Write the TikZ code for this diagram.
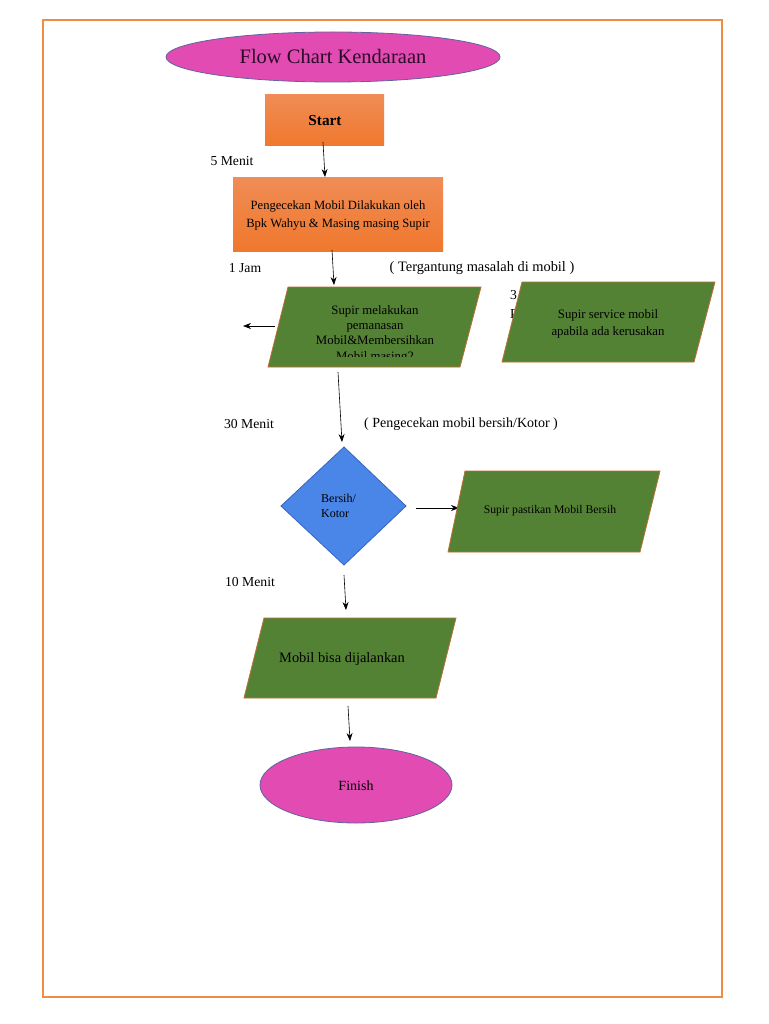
\documentclass[tikz,border=0pt]{standalone}
\usepackage{fontspec}
\setmainfont{Liberation Serif}
\usetikzlibrary{shapes.geometric,arrows.meta}
\definecolor{frameor}{RGB}{240,140,70}
\definecolor{pinkf}{RGB}{226,75,177}
\definecolor{ellb}{RGB}{95,100,160}
\definecolor{greenf}{RGB}{84,130,53}
\definecolor{greenb}{RGB}{190,110,50}
\definecolor{bluef}{RGB}{74,134,232}
\definecolor{blueb}{RGB}{55,100,190}
\definecolor{ortop}{RGB}{240,140,85}
\definecolor{orbot}{RGB}{240,120,45}
\definecolor{titlec}{RGB}{40,10,40}
\tikzset{
  lbl/.style={inner sep=0pt,font=\fontsize{13.7}{15}\selectfont},
  ptxt/.style={inner sep=0pt,align=center,font=\fontsize{11}{15}\selectfont},
  para/.style={fill=greenf,draw=greenb,line width=0.8pt},
  orbox/.style={top color=ortop,bottom color=orbot,draw=none},
  arr/.style={-{Stealth[length=8pt,width=6pt]},line width=0.6pt},
}
\begin{document}
\begin{tikzpicture}[x=1pt,y=-1pt]
\useasboundingbox (0,0) rectangle (768,1024);
\fill[white] (0,0) rectangle (768,1024);
\draw[frameor,line width=1.2pt] (43,20) rectangle (722,997);

% title
\node[ellipse,fill=pinkf,draw=ellb,line width=0.8pt,minimum width=334pt,minimum height=50pt,inner sep=0pt] (title) at (333,57) {};
\node[inner sep=0pt,text=titlec,font=\fontsize{20.5}{22}\selectfont] (titletxt) at (333,56) {Flow Chart Kendaraan};

% start
\node[orbox,minimum width=119pt,minimum height=51pt] (start) at (324.5,120.5) {};
\node[inner sep=0pt,font=\bfseries\fontsize{15.3}{17}\selectfont] (starttxt) at (325,121) {Start};

\node[lbl] (l5) at (232,161) {5 Menit};
\coordinate (a1s) at (323,142);
\coordinate (a1e) at (325,177);
\draw[arr] (a1s) -- (a1e);

% check box
\node[orbox,minimum width=210pt,minimum height=73pt] (check) at (338,214.5) {};
\node[ptxt,font=\fontsize{12.6}{18}\selectfont] (checktxt) at (338,215) {Pengecekan Mobil Dilakukan oleh\\Bpk Wahyu \& Masing masing Supir};

\node[lbl] (l1) at (245,268) {1 Jam};
\node[lbl,font=\fontsize{14.4}{16}\selectfont] (lt) at (482,268) {( Tergantung masalah di mobil )};
\coordinate (a2s) at (332,250);
\coordinate (a2e) at (334,285);
\draw[arr] (a2s) -- (a2e);

% hidden text behind right parallelogram
\node[lbl,anchor=west] (h3) at (510,295) {3};
\node[lbl,anchor=west] (hp) at (510,314) {P};

% parallelogram 1
\draw[para] (288,287) -- (481,287) -- (460,367) -- (268,367) -- cycle;
\begin{scope}
\clip (260,290) rectangle (490,356);
\node[ptxt,font=\fontsize{12.8}{15.3}\selectfont] (p1txt) at (375,334) {Supir melakukan\\pemanasan\\Mobil\&Membersihkan\\Mobil masing2};
\end{scope}
\coordinate (a3s) at (275,326);
\coordinate (a3e) at (243,326);
\draw[arr] (a3s) -- (a3e);

% parallelogram 2
\draw[para] (522,282) -- (715,282) -- (694,362) -- (502,362) -- cycle;
\node[ptxt,font=\fontsize{12.8}{17}\selectfont] (p2txt) at (608,324) {Supir service mobil\\apabila ada kerusakan};

\coordinate (a4s) at (338,372);
\coordinate (a4e) at (342,442);
\draw[arr] (a4s) -- (a4e);
\node[lbl] (l30) at (249,424) {30 Menit};
\node[lbl,font=\fontsize{14}{16}\selectfont] (lp) at (461,424) {( Pengecekan mobil bersih/Kotor )};

% diamond
\draw[fill=bluef,draw=blueb,line width=0.8pt] (344,447) -- (406,506) -- (344,565) -- (281,506) -- cycle;
\node[ptxt,align=left,font=\fontsize{12}{15.5}\selectfont,anchor=west] (dtxt) at (321,506) {Bersih/\\Kotor};

\coordinate (a5s) at (416,508);
\coordinate (a5e) at (459,508);
\draw[arr] (a5s) -- (a5e);

% parallelogram 3
\draw[para] (465,471) -- (660,471) -- (640,552) -- (448,552) -- cycle;
\node[ptxt,font=\fontsize{11.7}{14}\selectfont] (p3txt) at (550,511) {Supir pastikan Mobil Bersih};

\node[lbl] (l10) at (250,582) {10 Menit};
\coordinate (a6s) at (344,575);
\coordinate (a6e) at (346,610);
\draw[arr] (a6s) -- (a6e);

% parallelogram 4
\draw[para] (264,618) -- (456,618) -- (436,698) -- (244,698) -- cycle;
\node[ptxt,font=\fontsize{14.4}{16}\selectfont] (p4txt) at (342,659) {Mobil bisa dijalankan};

\coordinate (a7s) at (348,706);
\coordinate (a7e) at (350,741);
\draw[arr] (a7s) -- (a7e);

% finish
\node[ellipse,fill=pinkf,draw=ellb,line width=0.8pt,minimum width=192pt,minimum height=76pt,inner sep=0pt] (finish) at (356,785) {};
\node[ptxt,font=\fontsize{14}{16}\selectfont] (fintxt) at (356,786) {Finish};
\end{tikzpicture}
\end{document}
